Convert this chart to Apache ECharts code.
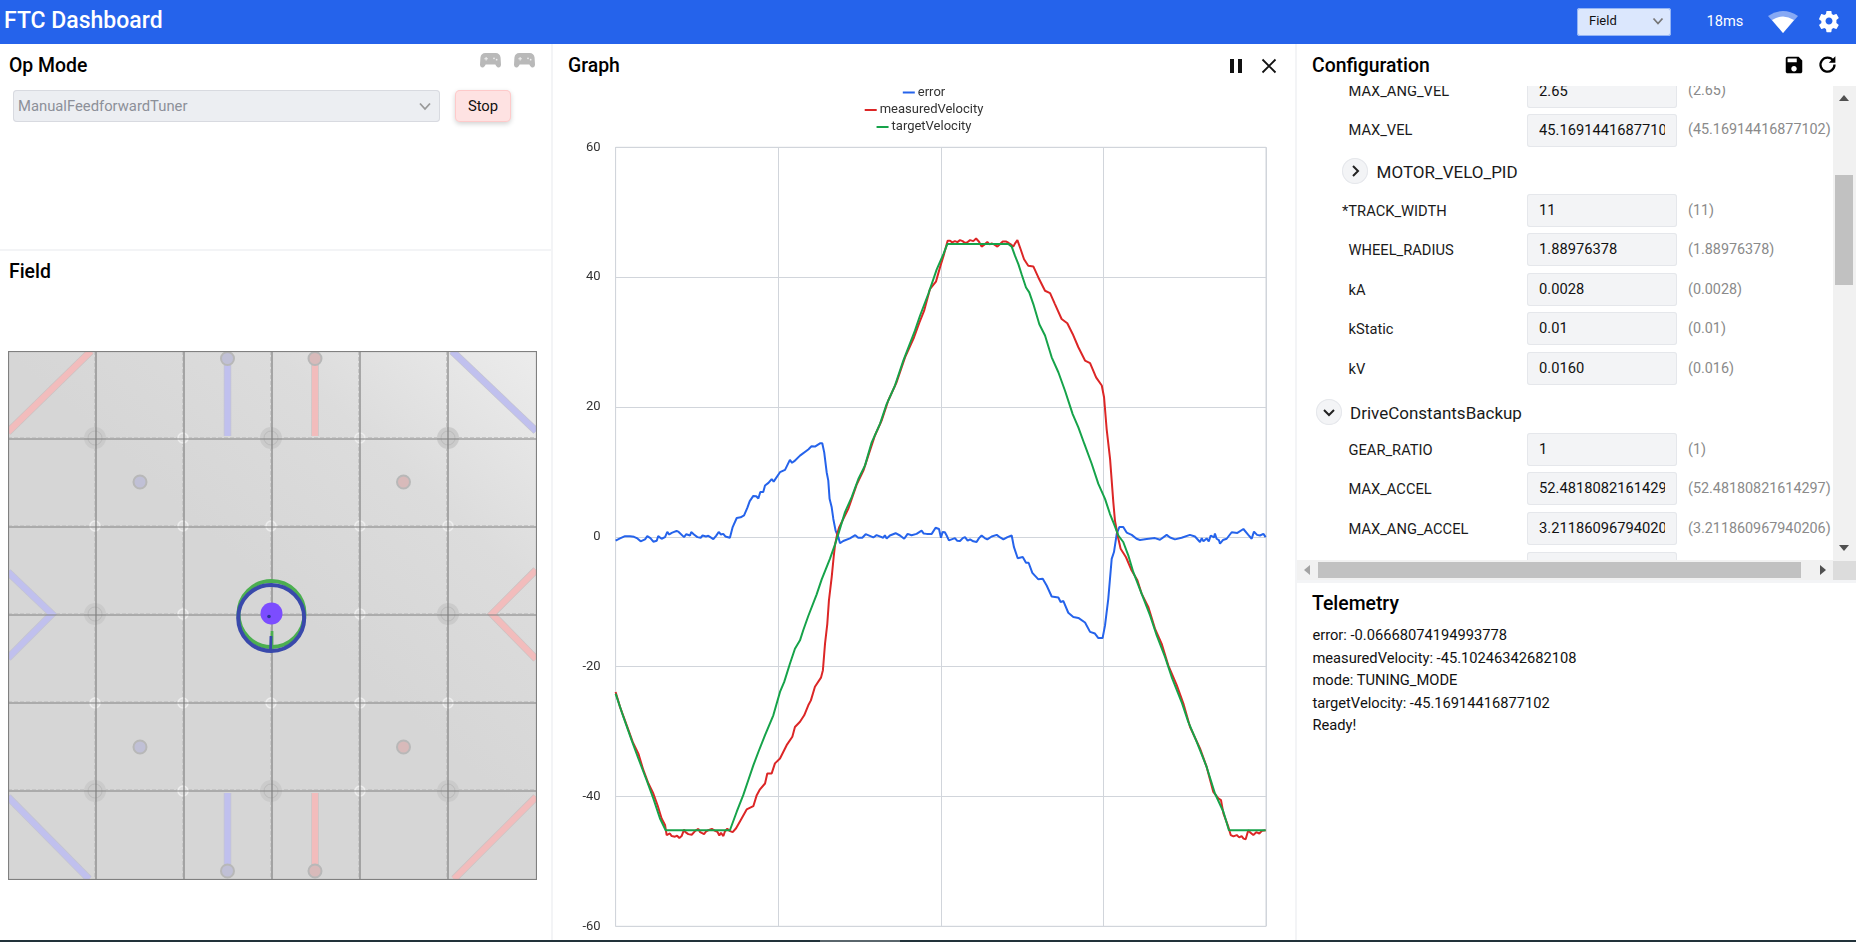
<!DOCTYPE html>
<html><head><meta charset="utf-8"><title>FTC Dashboard</title>
<script src="https://cdn.jsdelivr.net/npm/echarts@6/dist/echarts.min.js"></script>
<style>
html,body{margin:0;padding:0;width:1856px;height:942px;overflow:hidden;background:#fff;font-family:Roboto,sans-serif;color:#111}
.a{position:absolute;white-space:nowrap}
.h{font-size:19.4px;font-weight:500;color:#000;line-height:24px}
.lbl{font-size:14.7px;line-height:20px;color:#1a1a1a}
.inp{position:absolute;left:1527px;width:150px;height:33px;background:#f3f4f6;border-radius:3px;box-shadow:inset 0 0 0 1px #e5e7eb;overflow:hidden;font-size:14.7px;line-height:33px;color:#111;box-sizing:border-box}
.inp span{position:absolute;left:12px;right:12px;overflow:hidden;white-space:nowrap;display:block}
.val{font-size:14.35px;line-height:20px;color:#8a8a8a;left:1688px}
.tele{left:1312.4px;font-size:14.7px;line-height:22px;color:#111}
</style></head><body>
<script>
// Chart data: [time, value]
const seriesNames = ['error','measuredVelocity','targetVelocity'];
const yTicks = [-60,-40,-20,0,20,40,60];
const errorData = [[0,-0.6],[.027,-.25],[.058,.1],[.089,.1],[.113,0],[.134,-.25],[.154,-.7],[.181,-.4],[.195,.1],[.207,.3],[.214,-.2],[.22,-.15],[.232,-.75],[.253,-.6],[.262,.1],[.269,.25],[.283,-.3],[.304,-.05],[.318,.75],[.33,.35],[.345,.6],[.36,.75],[.375,.9],[.388,.75],[.40,1.05],[.421,-.05],[.435,.4],[.447,.45],[.458,.2],[.465,.75],[.482,.35],[.492,.5],[.503,-.05],[.523,-.15],[.535,.2],[.544,.35],[.556,.05],[.57,.15],[.585,-.1],[.601,-.35],[.618,.15],[.634,.75],[.648,.35],[.662,.45],[.675,.05],[.687,-.15],[.703,-.15],[.72,1.5],[.745,2.9],[.757,2.7],[.769,3],[.79,3.3],[.81,4.45],[.825,5.5],[.847,6.3],[.865,6.25],[.878,5.9],[.89,6.9],[.9,7.2],[.908,6.9],[.919,7.9],[.93,7.6],[.94,8.3],[.96,8.9],[.972,8.5],[.984,8.3],[1.011,9.95],[1.042,10.3],[1.072,11.85],[1.085,11.4],[1.099,11.65],[1.134,12.5],[1.185,13.45],[1.205,13.95],[1.226,13.9],[1.257,14.4],[1.271,14.4],[1.283,13],[1.298,9.95],[1.308,8.65],[1.316,5.85],[1.329,4.55],[1.339,2.75],[1.353,.95],[1.37,-.05],[1.38,-1],[1.40,-.65],[1.441,-.25],[1.474,.25],[1.492,-.15],[1.517,-.15],[1.538,.4],[1.585,-.1],[1.605,.25],[1.646,-.15],[1.656,.25],[1.667,-.25],[1.687,.2],[1.722,.55],[1.749,.2],[1.775,-.3],[1.796,.45],[1.82,.25],[1.851,.45],[1.882,.95],[1.895,.5],[1.913,.45],[1.944,.45],[1.968,1.4],[1.989,1.2],[2.001,-.15],[2.011,.75],[2.025,.7],[2.036,.2],[2.05,-.55],[2.057,-.3],[2.087,-.2],[2.1,-.6],[2.118,-.65],[2.135,-.2],[2.149,-.05],[2.165,-.6],[2.18,-.4],[2.2,-.7],[2.22,-.8],[2.235,-.2],[2.251,.2],[2.27,-.2],[2.286,-.4],[2.313,.05],[2.344,.3],[2.365,-.1],[2.385,-.4],[2.41,-.05],[2.436,.2],[2.45,-1.6],[2.473,-3.3],[2.504,-3.1],[2.524,-4],[2.54,-4],[2.563,-5.55],[2.6,-6.55],[2.627,-6.45],[2.651,-7.5],[2.682,-9.2],[2.723,-9.35],[2.737,-10.05],[2.754,-9.9],[2.784,-11.7],[2.815,-12.35],[2.846,-12.5],[2.887,-13.2],[2.918,-14.65],[2.948,-14.9],[2.969,-15.6],[2.995,-15.6],[3.01,-13.65],[3.03,-9.55],[3.051,-3.4],[3.065,-2.35],[3.082,.45],[3.098,1.5],[3.106,1.6],[3.122,1.5],[3.143,.65],[3.174,.3],[3.204,-.3],[3.225,-.5],[3.266,-.35],[3.317,-.2],[3.348,-.45],[3.389,.3],[3.41,-.1],[3.44,-.4],[3.481,-.15],[3.532,.3],[3.563,.05],[3.594,-.8],[3.605,-.2],[3.615,-.7],[3.635,-.25],[3.648,-.7],[3.66,.2],[3.672,.45],[3.68,-.1],[3.686,.5],[3.696,-.3],[3.71,-.5],[3.717,-1.05],[3.735,-.5],[3.758,-.3],[3.789,.7],[3.824,.6],[3.861,1.2],[3.891,.3],[3.912,-.3],[3.926,.8],[3.945,.3],[3.963,.2],[3.984,.45],[3.998,-.05]];
const measuredData = [[0,-23.9],[.027,-26.2],[.068,-29],[.105,-31.6],[.14,-33.4],[.171,-35.95],[.202,-38],[.232,-39.55],[.258,-41.35],[.283,-43.4],[.304,-44.4],[.314,-45.95],[.322,-46.2],[.334,-45.7],[.345,-46.1],[.355,-45.9],[.365,-46.2],[.378,-46.05],[.392,-46.4],[.406,-46.1],[.414,-46.2],[.421,-45.1],[.43,-45.5],[.439,-45.3],[.447,-45.8],[.458,-45.5],[.468,-45.9],[.478,-45.6],[.49,-45.3],[.499,-45.5],[.509,-45],[.52,-45.5],[.532,-45.3],[.544,-45.8],[.556,-45.4],[.57,-45.2],[.582,-45.35],[.592,-45],[.601,-45.05],[.612,-45.3],[.626,-45.45],[.638,-46],[.648,-45.6],[.663,-46.1],[.672,-45.4],[.687,-44.95],[.7,-45.3],[.72,-45.5],[.741,-44.9],[.769,-43.65],[.806,-42],[.847,-41.5],[.868,-39.8],[.888,-38.9],[.919,-38],[.933,-36.45],[.96,-36.45],[.98,-34.9],[1.011,-34.15],[1.052,-32.1],[1.087,-30.8],[1.103,-29.3],[1.134,-28.5],[1.16,-27.5],[1.185,-25.95],[1.201,-25.2],[1.226,-23.1],[1.263,-21.7],[1.275,-20.55],[1.288,-16.45],[1.302,-13.4],[1.312,-9.8],[1.329,-6.2],[1.341,-3.15],[1.349,-1.35],[1.363,.45],[1.374,1.4],[1.40,2.75],[1.431,4.3],[1.456,6.1],[1.482,8],[1.524,10.2],[1.554,12.5],[1.595,15.6],[1.636,17.9],[1.677,21],[1.728,23.8],[1.78,27.65],[1.835,30.7],[1.868,33],[1.897,34.8],[1.933,38.15],[1.97,39.3],[1.995,41.5],[2.02,43.55],[2.042,45.6],[2.05,45.4],[2.057,45.6],[2.07,45.35],[2.087,45.55],[2.102,45.4],[2.118,45.7],[2.134,45.55],[2.149,45.25],[2.165,45.4],[2.18,45.7],[2.2,45.55],[2.217,45.95],[2.235,45.45],[2.251,44.7],[2.27,45.05],[2.286,45.4],[2.3,45.05],[2.313,45.2],[2.33,45],[2.348,44.7],[2.365,45.1],[2.381,45.5],[2.4,45.5],[2.415,45.3],[2.43,45.05],[2.446,44.7],[2.458,45.25],[2.471,45.7],[2.491,44.3],[2.512,42.75],[2.538,41.75],[2.569,41.65],[2.6,39.95],[2.641,37.9],[2.672,37.55],[2.702,35.85],[2.743,33.55],[2.778,32.9],[2.811,31.25],[2.846,29.2],[2.887,27.15],[2.918,26.75],[2.955,24.55],[2.99,23.3],[3.004,21.5],[3.02,16.6],[3.041,12],[3.061,5.35],[3.071,2.5],[3.092,-.3],[3.106,-1.85],[3.139,-3.15],[3.174,-5.2],[3.209,-6.7],[3.235,-8.75],[3.276,-10.8],[3.317,-14.15],[3.358,-16.45],[3.399,-19.8],[3.451,-22.85],[3.492,-25.7],[3.533,-29.3],[3.594,-32.6],[3.635,-35.45],[3.676,-39.3],[3.707,-40.3],[3.723,-40.55],[3.738,-42.6],[3.768,-44.65],[3.783,-45.95],[3.8,-46.15],[3.82,-45.95],[3.835,-46.3],[3.85,-46.1],[3.862,-46.5],[3.875,-46.6],[3.891,-45.2],[3.905,-45.6],[3.922,-45.95],[3.94,-45.5],[3.959,-45.7],[3.975,-45.3],[3.998,-45.2]];
const targetData = [[0,-24.15],[.048,-27.75],[.099,-31.35],[.14,-34.15],[.191,-37.5],[.232,-40.3],[.273,-43.4],[.308,-45.2],[.703,-45.2],[.745,-42.35],[.785,-39.8],[.816,-37.5],[.847,-35.2],[.878,-33.15],[.919,-30.55],[.97,-27.5],[1.011,-23.9],[1.037,-22.35],[1.072,-19.55],[1.103,-17.25],[1.134,-15.95],[1.154,-14.4],[1.185,-12.2],[1.236,-8.9],[1.267,-6.6],[1.318,-3.4],[1.349,-1.2],[1.37,.45],[1.411,3.8],[1.452,6.1],[1.493,8.9],[1.534,11],[1.575,14.55],[1.626,17.4],[1.667,20.45],[1.718,23.3],[1.769,27.1],[1.841,31.75],[1.872,34.05],[1.923,37.4],[1.975,41.2],[2.016,43.55],[2.04,45.1],[2.415,45.1],[2.436,44.7],[2.456,43.3],[2.477,42],[2.497,40.45],[2.524,38.4],[2.544,37.65],[2.569,35.85],[2.606,32.75],[2.641,31],[2.682,27.65],[2.723,25.35],[2.764,22.5],[2.811,18.9],[2.846,16.85],[2.883,14.3],[2.928,11.25],[2.969,8.15],[3.01,5.85],[3.04,3.55],[3.065,2],[3.092,.2],[3.122,-.8],[3.153,-2.85],[3.184,-5.45],[3.235,-8.75],[3.287,-12.1],[3.328,-15.2],[3.379,-18.5],[3.42,-21.6],[3.481,-25.45],[3.522,-28.5],[3.574,-31.6],[3.635,-35.45],[3.686,-39.55],[3.738,-42.35],[3.772,-45.2],[3.998,-45.2]];
const seriesColors = ['#2563eb','#dc2626','#16a34a'];
const configRows = [
 ['MAX_ANG_VEL','2.65','(2.65)',91,1348.5],['MAX_VEL','45.16914416877102','(45.16914416877102)',130,1348.5],
 ['*TRACK_WIDTH','11','(11)',210.8,1342],['WHEEL_RADIUS','1.88976378','(1.88976378)',249.8,1348.5],
 ['kA','0.0028','(0.0028)',289.7,1348.5],['kStatic','0.01','(0.01)',328.6,1348.5],['kV','0.0160','(0.016)',368.5,1348.5],
 ['GEAR_RATIO','1','(1)',449.8,1348.5],['MAX_ACCEL','52.48180821614297','(52.48180821614297)',488.7,1348.5],
 ['MAX_ANG_ACCEL','3.211860967940206','(3.211860967940206)',528.7,1348.5]];
const telemetry = ['error: -0.06668074194993778','measuredVelocity: -45.10246342682108','mode: TUNING_MODE','targetVelocity: -45.16914416877102','Ready!'];
</script>

<!-- header -->
<div class="a" style="left:0;top:0;width:1856px;height:44px;background:#2563eb"></div>
<div class="a" style="left:4px;top:5px;font-size:23px;line-height:32px;font-weight:500;color:#fff">FTC Dashboard</div>
<div class="a" style="left:1577px;top:7.5px;width:94px;height:28px;background:#dbe7fd;border-radius:3px;box-shadow:inset 0 0 0 1px #93b4f5"></div>
<div class="a" style="left:1589px;top:11px;font-size:13px;line-height:20px;color:#111">Field</div>
<svg class="a" style="left:1652px;top:17px" width="12" height="9"><path d="M1.5 1.5L6 6.5L10.5 1.5" fill="none" stroke="#777" stroke-width="1.8"/></svg>
<div class="a" style="left:1706.5px;top:11px;font-size:14.6px;line-height:20px;color:#fff">18ms</div>
<svg class="a" style="left:1768px;top:9px" width="30" height="25" viewBox="0 0 30 25"><path d="M15 24L0 7Q15 -3 30 7Z" fill="#fff" opacity=".45"/><path d="M15 24L4 11Q15 4 26 11Z" fill="#fff"/></svg>
<svg class="a" style="left:1817px;top:9px" width="24" height="24" viewBox="0 0 24 24"><path fill="#fff" d="M19.4 13c.04-.33.06-.66.06-1s-.02-.67-.07-1l2.15-1.65c.2-.15.25-.42.13-.64l-2.03-3.5c-.12-.22-.38-.3-.6-.22l-2.54 1c-.53-.4-1.1-.74-1.72-1l-.38-2.66C14.34 2.1 14.13 2 13.9 2h-4c-.25 0-.46.18-.5.42L9 5.08c-.6.26-1.18.6-1.7 1l-2.55-1c-.23-.08-.48 0-.6.22L2.1 9.8c-.13.22-.07.5.12.64L4.4 12.1c-.04.32-.07.65-.07 1s.03.67.07 1L2.25 15.7c-.2.14-.25.42-.12.64l2.03 3.5c.12.22.38.3.6.22l2.54-1c.53.4 1.1.74 1.7 1l.4 2.66c.04.24.25.42.5.42h4c.25 0 .46-.18.5-.42l.38-2.66c.62-.26 1.18-.6 1.7-1l2.55 1c.23.08.48 0 .6-.22l2.03-3.5c.12-.22.07-.5-.12-.64L19.4 14zM12 15.5c-1.93 0-3.5-1.57-3.5-3.5s1.57-3.5 3.5-3.5 3.5 1.57 3.5 3.5-1.57 3.5-3.5 3.5z"/></svg>

<!-- separators -->
<div class="a" style="left:551px;top:44px;width:2px;height:898px;background:#f3f4f6"></div>
<div class="a" style="left:1295px;top:44px;width:2px;height:898px;background:#f3f4f6"></div>
<div class="a" style="left:0;top:249px;width:551px;height:2px;background:#f3f4f6"></div>
<div class="a" style="left:1297px;top:580px;width:559px;height:3px;background:#f3f4f6"></div>

<!-- op mode -->
<div class="a h" style="left:9px;top:54px">Op Mode</div>
<svg class="a" style="left:480px;top:52px" width="21" height="17" viewBox="0 0 24 19"><path fill="#b9b9b9" d="M6 1h12c3 0 5 2 5.5 5l.5 8c.1 2-1 3.5-2.7 3.5-1.3 0-2-.7-2.8-1.700L17.500 14H6.500L5.500 15.800C4.700 16.800 4 17.500 2.700 17.500 1 17.500-.1 16 0 14L.5 6C1 3 3 1 6 1z"/><path d="M5 7.500h4M7 5.500v4" stroke="#eee" stroke-width="1.200"/><circle cx="16" cy="7" r="1" fill="#eee"/><circle cx="19" cy="8.500" r="1" fill="#eee"/></svg>
<svg class="a" style="left:514px;top:52px" width="21" height="17" viewBox="0 0 24 19"><path fill="#b9b9b9" d="M6 1h12c3 0 5 2 5.500 5l.5 8c.1 2-1 3.500-2.700 3.500-1.300 0-2-.7-2.800-1.700L17.500 14H6.500L5.500 15.800C4.700 16.800 4 17.500 2.700 17.500 1 17.500-.1 16 0 14L.5 6C1 3 3 1 6 1z"/><path d="M5 7.500h4M7 5.500v4" stroke="#eee" stroke-width="1.200"/><circle cx="16" cy="7" r="1" fill="#eee"/><circle cx="19" cy="8.500" r="1" fill="#eee"/></svg>
<div class="a" style="left:13px;top:90px;width:427px;height:32px;background:#eceef2;border-radius:4px;box-shadow:inset 0 0 0 1px #d8dae0"></div>
<div class="a" style="left:18px;top:96px;font-size:14.8px;line-height:20px;color:#8c9099">ManualFeedforwardTuner</div>
<svg class="a" style="left:419px;top:102px" width="12" height="9"><path d="M1 1.500L6 7L11 1.500" fill="none" stroke="#999" stroke-width="1.800"/></svg>
<div class="a" style="left:455px;top:90px;width:56px;height:32px;background:#fee2e2;border-radius:5px;box-shadow:inset 0 0 0 1px #fecaca,0 2px 5px rgba(0,0,0,.18);text-align:center;font-size:14.8px;line-height:32px;color:#111">Stop</div>

<!-- field -->
<div class="a h" style="left:9px;top:260px">Field</div>
<svg class="a" style="left:8.4px;top:351.4px" width="529" height="529" viewBox="0 0 529 529">
<defs><linearGradient id="fg" x1="1" y1="0" x2="0.55" y2="0.5"><stop offset="0" stop-color="#ececec"/><stop offset="0.5" stop-color="#dcdcdc"/><stop offset="1" stop-color="#d6d6d6"/></linearGradient></defs>
<rect x=".5" y=".5" width="528" height="528" fill="url(#fg)"/>
<g fill="none" stroke="#c6c6c6" stroke-width="1" stroke-dasharray="4 2">
<path d="M86.500 0V528M174.500 0V528M262.500 0V528M350.500 0V528M438.500 0V528M0 86.500H528M0 174.500H528M0 262.500H528M0 350.500H528M0 438.500H528"/></g>
<g fill="none" stroke-linejoin="miter">
<g stroke="#cdc2c2" stroke-width="7.500"><path d="M0 81L83 0M528 446L446 528"/><path d="M528 219L484 263L528 308"/><path d="M307 85V14M307 442V514"/></g>
<g stroke="#f2bcbc" stroke-width="6"><path d="M0 81L83 0M528 446L446 528"/><path d="M528 219L484 263L528 308"/><path d="M307 85V14M307 442V514"/></g>
<g stroke="#c4c4d2" stroke-width="7.500"><path d="M444 0L528 80M0 446L81 528"/><path d="M0 221L44 263L0 307"/><path d="M219.500 85V14M219.500 442V514"/></g>
<g stroke="#c0c0ee" stroke-width="6"><path d="M444 0L528 80M0 446L81 528"/><path d="M0 221L44 263L0 307"/><path d="M219.500 85V14M219.500 442V514"/></g>
</g>
<g fill="#cbcbcb"><circle cx="87" cy="87" r="11"/><circle cx="263" cy="87" r="11"/><circle cx="440" cy="87" r="11"/><circle cx="87" cy="263" r="11"/><circle cx="440" cy="263" r="11"/><circle cx="87" cy="440" r="11"/><circle cx="263" cy="440" r="11"/><circle cx="440" cy="440" r="11"/></g>
<g fill="none" stroke="#bbb"><circle cx="87" cy="87" r="7"/><circle cx="263" cy="87" r="7"/><circle cx="440" cy="87" r="7"/><circle cx="87" cy="263" r="7"/><circle cx="440" cy="263" r="7"/><circle cx="87" cy="440" r="7"/><circle cx="263" cy="440" r="7"/><circle cx="440" cy="440" r="7"/></g>
<g fill="#dedede" stroke="#eeeeee" stroke-width="1.500"><circle cx="175" cy="87" r="5"/><circle cx="352" cy="87" r="5"/><circle cx="87" cy="175" r="5"/><circle cx="175" cy="175" r="5"/><circle cx="263" cy="175" r="5"/><circle cx="352" cy="175" r="5"/><circle cx="440" cy="175" r="5"/><circle cx="175" cy="263" r="5"/><circle cx="352" cy="263" r="5"/><circle cx="87" cy="352" r="5"/><circle cx="175" cy="352" r="5"/><circle cx="263" cy="352" r="5"/><circle cx="352" cy="352" r="5"/><circle cx="440" cy="352" r="5"/><circle cx="175" cy="440" r="5"/><circle cx="352" cy="440" r="5"/></g>
<g fill="#c0c0d6" stroke="#b8b8b8" stroke-width="2"><circle cx="132" cy="131" r="6.500"/><circle cx="132" cy="396" r="6.500"/><circle cx="219.500" cy="7.500" r="6.500"/><circle cx="219.500" cy="520" r="6.500"/></g>
<g fill="#d8baba" stroke="#b8b8b8" stroke-width="2"><circle cx="395.500" cy="131" r="6.500"/><circle cx="395.500" cy="396" r="6.500"/><circle cx="307" cy="7.500" r="6.500"/><circle cx="307" cy="520" r="6.500"/></g>
<path fill="none" stroke="#808080" stroke-width="1.200" d="M88 0V528M176 0V528M264 0V528M352 0V528M440 0V528M0 88H528M0 176H528M0 264H528M0 352H528M0 440H528"/>
<rect x=".5" y=".5" width="528" height="528" fill="none" stroke="#808080" stroke-width="1.200"/>
<circle cx="263.500" cy="262.500" r="11" fill="#7c4dff"/>
<circle cx="261" cy="265.500" r="1.800" fill="#283593"/>
<circle cx="263.500" cy="263" r="33" fill="none" stroke="#4caf50" stroke-width="4"/>
<path d="M264 300V280" stroke="#4caf50" stroke-width="2.800"/>
<circle cx="263.200" cy="267" r="33" fill="none" stroke="#3949ab" stroke-width="4"/>
<path d="M262.500 300L263 285" stroke="#3949ab" stroke-width="2.800"/>
</svg>

<!-- graph -->
<div class="a h" style="left:568px;top:54px">Graph</div>
<svg class="a" style="left:1226px;top:56px" width="20" height="20"><path d="M4 3h4v14H4zM12 3h4v14h-4z" fill="#111"/></svg>
<svg class="a" style="left:1259px;top:56px" width="20" height="20"><path d="M3.500 3.500L16.500 16.500M16.500 3.500L3.500 16.500" stroke="#111" stroke-width="1.800"/></svg>
<div id="chart" class="a" style="left:553px;top:74px;width:742px;height:866px"></div>

<!-- configuration -->
<div class="a h" style="left:1312px;top:54px">Configuration</div>
<svg class="a" style="left:1783px;top:54px" width="22" height="22" viewBox="0 0 24 24"><path fill="#000" d="M17 3H5c-1.100 0-2 .9-2 2v14c0 1.100.9 2 2 2h14c1.100 0 2-.9 2-2V7l-4-4zm-5 16c-1.700 0-3-1.300-3-3s1.300-3 3-3 3 1.300 3 3-1.300 3-3 3zm3-10H5V5h10v4z"/></svg>
<svg class="a" style="left:1817px;top:54px" width="21" height="21" viewBox="0 0 24 24"><path fill="none" stroke="#000" stroke-width="2.600" d="M18.500 7.500A8 8 0 1 0 20 12"/><path fill="#000" d="M21 2.500V10h-7.500z"/></svg>
<div class="a" id="cfg" style="left:1297px;top:86px;width:536px;height:475px;overflow:hidden"></div>
<div class="a" style="left:1833px;top:86px;width:23px;height:475px;background:#f1f1f1"></div>
<div class="a" style="left:1835px;top:175px;width:18px;height:110px;background:#c1c1c1"></div>
<svg class="a" style="left:1838px;top:94px" width="12" height="8"><path d="M6 1L11 7H1z" fill="#505050"/></svg>
<svg class="a" style="left:1838px;top:544px" width="12" height="8"><path d="M1 1H11L6 7z" fill="#505050"/></svg>
<div class="a" style="left:1297px;top:560px;width:536px;height:20px;background:#f1f1f1"></div>
<div class="a" style="left:1833px;top:561px;width:23px;height:19px;background:#dcdcdc"></div>
<div class="a" style="left:1318px;top:562px;width:483px;height:16px;background:#c1c1c1"></div>
<svg class="a" style="left:1303px;top:564px" width="8" height="12"><path d="M7 1V11L1 6z" fill="#a3a3a3"/></svg>
<svg class="a" style="left:1819px;top:564px" width="8" height="12"><path d="M1 1V11L7 6z" fill="#505050"/></svg>

<!-- telemetry -->
<div class="a h" style="left:1312px;top:592px">Telemetry</div>

<div class="a" style="left:0;top:940px;width:1856px;height:2px;background:#22323a"></div>
<div class="a" style="left:820px;top:940px;width:80px;height:2px;background:#5a666c"></div>

<script>
const cfg = document.getElementById('cfg');
const top0 = 86, left0 = 1297;
function add(html){ document.body.insertAdjacentHTML('beforeend', html); }
configRows.forEach(r=>{
  const y = r[3]-top0;
  cfg.insertAdjacentHTML('beforeend',
   `<div class="a lbl" style="left:${r[4]-left0}px;top:${y-10}px">${r[0]}</div>`+
   `<div class="inp" style="left:${1527-left0}px;top:${y-16.5}px"><span>${r[1]}</span></div>`+
   `<div class="a val" style="left:${1688-left0}px;top:${y-10}px">${r[2]}</div>`);
});
cfg.insertAdjacentHTML('beforeend', `<div class="inp" style="left:${1527-left0}px;top:${552-top0}px"></div>`);
const groups = [['MOTOR_VELO_PID',171.2,1355,1376.6,'M7 4L12 9L7 14'],['DriveConstantsBackup',412.3,1329,1350,'M4 7L9 12L14 7']];
groups.forEach(g=>{
  const y=g[1]-top0, cx=g[2]-left0;
  cfg.insertAdjacentHTML('beforeend',
   `<div class="a" style="left:${cx-13}px;top:${y-13}px;width:26px;height:26px;border-radius:50%;background:#f3f4f6;box-shadow:inset 0 0 0 1px #e5e7eb"></div>`+
   `<svg class="a" style="left:${cx-9}px;top:${y-9}px" width="18" height="18"><path d="${g[4]}" fill="none" stroke="#222" stroke-width="2"/></svg>`+
   `<div class="a" style="left:${g[3]-left0}px;top:${y-10.5}px;font-size:17px;line-height:22px;color:#1a1a1a">${g[0]}</div>`);
});
telemetry.forEach((t,i)=>add(`<div class="a tele" style="top:${624+i*22.5}px">${t}</div>`));

const chart = echarts.init(document.getElementById('chart'), null, {renderer:'canvas'});
const dataSets = [errorData, measuredData, targetData];
const legendTops = [7, 24.5, 41.5];
chart.setOption({
  animation:false,
  legend: seriesNames.map((n,i)=>({
    data:[n], left:'center', top:legendTops[i], itemWidth:12, itemHeight:2, itemGap:0,
    icon:'rect', textStyle:{fontFamily:'Roboto',fontSize:13,color:'#333',padding:[0,0,0,-2]}, selectedMode:false
  })),
  grid:{left:62.6,right:29,top:73.3,height:779,show:true,borderColor:'#d1d5db',borderWidth:1,backgroundColor:'transparent'},
  xAxis:{type:'value',min:0,max:4,interval:1,axisLabel:{show:false},axisTick:{show:false},axisLine:{show:false},
    splitLine:{show:true,lineStyle:{color:'#d1d5db',width:1}}},
  yAxis:{type:'value',min:yTicks[0],max:yTicks[yTicks.length-1],interval:20,axisTick:{show:false},axisLine:{show:false},
    axisLabel:{margin:15,fontFamily:'Roboto',fontSize:13,color:'#333',padding:[0,0,4,0]},
    splitLine:{show:true,lineStyle:{color:'#d1d5db',width:1}}},
  series: seriesNames.map((n,i)=>({
    name:n,type:'line',data:dataSets[i],showSymbol:false,symbol:'none',smooth:false,
    lineStyle:{color:seriesColors[i],width:2},itemStyle:{color:seriesColors[i]},z:2+i
  }))
});
</script>
</body></html>
